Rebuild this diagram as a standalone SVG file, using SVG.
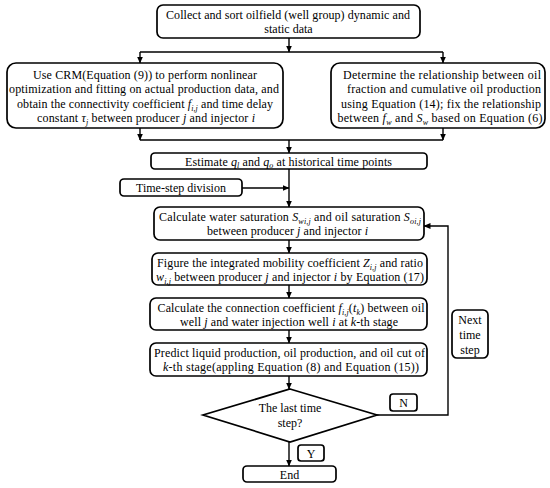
<svg xmlns="http://www.w3.org/2000/svg" width="550" height="488" viewBox="0 0 550 488">
<defs>
<style>
.box{fill:#fff;stroke:#000;stroke-width:1.7}
.t{font-family:"Liberation Serif","Times New Roman",serif;font-size:12px;text-anchor:middle;fill:#000}
.i{font-style:italic}
.s{font-size:8px;font-style:italic}
.c{stroke:#000;stroke-width:1.4;fill:none}
</style>
<marker id="ah" markerWidth="7" markerHeight="6" refX="6.5" refY="3" orient="auto" markerUnits="userSpaceOnUse">
<path d="M0,0 L7,3 L0,6 Z" fill="#000"/>
</marker>
</defs>
<rect width="550" height="488" fill="#fff"/>
<g id="connectors">
<line class="c" x1="289" y1="38" x2="289" y2="52" marker-end="url(#ah)"/>
<line class="c" x1="140" y1="52" x2="443" y2="52"/>
<line class="c" x1="140" y1="52" x2="140" y2="63" marker-end="url(#ah)"/>
<line class="c" x1="443" y1="52" x2="443" y2="63" marker-end="url(#ah)"/>
<line class="c" x1="140" y1="128" x2="140" y2="140" marker-end="url(#ah)"/>
<line class="c" x1="443" y1="128" x2="443" y2="140" marker-end="url(#ah)"/>
<line class="c" x1="140" y1="140" x2="443" y2="140"/>
<line class="c" x1="289" y1="140" x2="289" y2="153" marker-end="url(#ah)"/>
<line class="c" x1="289" y1="169" x2="289" y2="207" marker-end="url(#ah)"/>
<line class="c" x1="242" y1="188" x2="289" y2="188" marker-end="url(#ah)"/>
<line class="c" x1="289" y1="240" x2="289" y2="253" marker-end="url(#ah)"/>
<line class="c" x1="289" y1="285" x2="289" y2="298" marker-end="url(#ah)"/>
<line class="c" x1="289" y1="330" x2="289" y2="343" marker-end="url(#ah)"/>
<line class="c" x1="289" y1="376" x2="289" y2="389" marker-end="url(#ah)"/>
<line class="c" x1="289" y1="442" x2="289" y2="466" marker-end="url(#ah)"/>
<polyline class="c" points="377,415 448,415 448,226 424,226" marker-end="url(#ah)"/>
</g>
<g id="collect">
<rect class="box" x="157" y="5" width="263" height="33" rx="6"/>
<text class="t" x="288" y="19" textLength="244">Collect and sort oilfield (well group) dynamic and</text>
<text class="t" x="288.5" y="33">static data</text>
</g>
<g id="crm">
<rect class="box" x="7" y="63" width="276" height="65" rx="9"/>
<text class="t" x="145" y="79" textLength="224">Use CRM(Equation (9)) to perform nonlinear</text>
<text class="t" x="144" y="93" textLength="270">optimization and fitting on actual production data, and</text>
<text class="t" x="145" y="108" textLength="256">obtain the connectivity coefficient <tspan class="i">f</tspan><tspan class="s" dy="2.5">i,j</tspan><tspan dy="-2.5"> and time delay</tspan></text>
<text class="t" x="146" y="122" textLength="218">constant <tspan class="i">τ</tspan><tspan class="s" dy="2.5">j</tspan><tspan dy="-2.5"> between producer </tspan><tspan class="i">j</tspan> and injector <tspan class="i">i</tspan></text>
</g>
<g id="fraction">
<rect class="box" x="331" y="63" width="214" height="65" rx="9"/>
<text class="t" x="442" y="79" textLength="198">Determine the relationship between oil</text>
<text class="t" x="444" y="93" textLength="194">fraction and cumulative oil production</text>
<text class="t" x="441" y="108" textLength="200">using Equation (14); fix the relationship</text>
<text class="t" x="440" y="122" textLength="205">between <tspan class="i">f</tspan><tspan class="s" dy="2.5">w</tspan><tspan dy="-2.5"> and </tspan><tspan class="i">S</tspan><tspan class="s" dy="2.5">w</tspan><tspan dy="-2.5"> based on Equation (6)</tspan></text>
</g>
<g id="estimate">
<rect class="box" x="151" y="153" width="276" height="16" rx="4"/>
<text class="t" x="288.5" y="165.5" textLength="207">Estimate <tspan class="i">q</tspan><tspan class="s" dy="2.5">l</tspan><tspan dy="-2.5"> and </tspan><tspan class="i">q</tspan><tspan class="s" dy="2.5">o</tspan><tspan dy="-2.5"> at historical time points</tspan></text>
</g>
<g id="timestep">
<rect class="box" x="120" y="179" width="122" height="17" rx="4"/>
<text class="t" x="181" y="192">Time-step division</text>
</g>
<g id="saturation">
<rect class="box" x="154" y="207" width="270" height="33" rx="6"/>
<text class="t" x="290" y="221" textLength="262">Calculate water saturation <tspan class="i">S</tspan><tspan class="s" dy="2.5">wi,j</tspan><tspan dy="-2.5"> and oil saturation </tspan><tspan class="i">S</tspan><tspan class="s" dy="2.5">oi,j</tspan></text>
<text class="t" x="287.5" y="235" textLength="161">between producer <tspan class="i">j</tspan> and injector <tspan class="i">i</tspan></text>
</g>
<g id="mobility">
<rect class="box" x="152" y="253" width="275" height="32" rx="6"/>
<text class="t" x="290" y="267" textLength="266">Figure the integrated mobility coefficient <tspan class="i">Z</tspan><tspan class="s" dy="2.5">i,j</tspan><tspan dy="-2.5"> and ratio</tspan></text>
<text class="t" x="290" y="281" textLength="268"><tspan class="i">w</tspan><tspan class="s" dy="2.5">i,j</tspan><tspan dy="-2.5"> between producer </tspan><tspan class="i">j</tspan> and injector <tspan class="i">i</tspan> by Equation (17)</text>
</g>
<g id="connection">
<rect class="box" x="150" y="298" width="277" height="32" rx="6"/>
<text class="t" x="291" y="312" textLength="267">Calculate the connection coefficient <tspan class="i">f</tspan><tspan class="s" dy="2.5">i,j</tspan><tspan dy="-2.5">(</tspan><tspan class="i">t</tspan><tspan class="s" dy="2.5">k</tspan><tspan dy="-2.5">) between oil</tspan></text>
<text class="t" x="289" y="326" textLength="218">well <tspan class="i">j</tspan> and water injection well <tspan class="i">i</tspan> at <tspan class="i">k</tspan>-th stage</text>
</g>
<g id="predict">
<rect class="box" x="150" y="343" width="277" height="33" rx="6"/>
<text class="t" x="289.5" y="357" textLength="271">Predict liquid production, oil production, and oil cut of</text>
<text class="t" x="291" y="371" textLength="256"><tspan class="i">k</tspan>-th stage(appling Equation (8) and Equation (15))</text>
</g>
<g id="decision">
<polygon class="box" points="290,389 377,415 290,442 203,415"/>
<text class="t" x="290" y="412">The last time</text>
<text class="t" x="290" y="427">step?</text>
</g>
<g id="nexttime">
<rect class="box" x="452" y="310" width="36" height="48" rx="5"/>
<text class="t" x="470" y="324">Next</text>
<text class="t" x="470" y="339">time</text>
<text class="t" x="470" y="354">step</text>
</g>
<g id="label-n">
<rect class="box" x="390" y="394" width="27" height="17" rx="3"/>
<text class="t" x="403.5" y="407">N</text>
</g>
<g id="label-y">
<rect class="box" x="298" y="445" width="26" height="16" rx="3"/>
<text class="t" x="311" y="457.5">Y</text>
</g>
<g id="end">
<rect class="box" x="243" y="466" width="93" height="16" rx="4"/>
<text class="t" x="289.5" y="478.5">End</text>
</g>
</svg>
